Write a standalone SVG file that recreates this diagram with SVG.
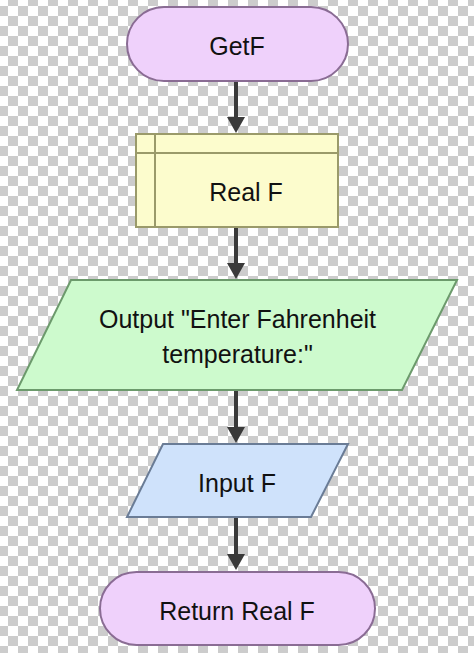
<svg xmlns="http://www.w3.org/2000/svg" width="474" height="653" viewBox="0 0 474 653">
  <defs>
    <pattern id="checker" x="-2" y="-4" width="20" height="20" patternUnits="userSpaceOnUse">
      <rect x="0" y="0" width="20" height="20" fill="#ffffff"/>
      <rect x="10" y="0" width="10" height="10" fill="#cccccc"/>
      <rect x="0" y="10" width="10" height="10" fill="#cccccc"/>
    </pattern>
    <marker id="arrow" viewBox="0 0 16 18" refX="0" refY="9" markerWidth="16" markerHeight="18" markerUnits="userSpaceOnUse" orient="auto">
      <path d="M0,0 L16,9 L0,18 Z" fill="#3a3a3a"/>
    </marker>
  </defs>
  <style>
    .lbl { font-family: "Liberation Sans", Arial, sans-serif; font-size: 25px; fill: #111111; text-anchor: middle; }
    .term { fill: #efd1fb; stroke: #8a6c94; stroke-width: 2; }
    .decl { fill: #fcfccd; stroke: #9a9a6a; stroke-width: 2; }
    .out { fill: #cdfacd; stroke: #6c9a6c; stroke-width: 2; }
    .inp { fill: #cfe2fb; stroke: #6a7c96; stroke-width: 2; }
    .conn { stroke: #3a3a3a; stroke-width: 4; fill: none; marker-end: url(#arrow); }
  </style>
  <rect x="0" y="0" width="474" height="653" fill="url(#checker)"/>

  <g id="connectors">
    <line class="conn" x1="236" y1="81" x2="236" y2="117"/>
    <line class="conn" x1="236" y1="227" x2="236" y2="263"/>
    <line class="conn" x1="236" y1="390" x2="236" y2="427"/>
    <line class="conn" x1="236" y1="517" x2="236" y2="554"/>
  </g>

  <g id="node-getf">
    <rect class="term" x="127" y="7" width="221" height="74" rx="37" ry="37"/>
    <text class="lbl" x="237" y="55">GetF</text>
  </g>

  <g id="node-realf">
    <rect class="decl" x="136" y="134" width="202" height="93"/>
    <line x1="155" y1="134" x2="155" y2="227" stroke="#9a9a6a" stroke-width="2"/>
    <line x1="136" y1="153" x2="338" y2="153" stroke="#9a9a6a" stroke-width="2"/>
    <text class="lbl" x="246" y="201">Real F</text>
  </g>

  <g id="node-output">
    <polygon class="out" points="71,280 457,280 402,390 17,390"/>
    <text class="lbl" x="237.5" y="328">Output "Enter Fahrenheit</text>
    <text class="lbl" x="237.5" y="363">temperature:"</text>
  </g>

  <g id="node-input">
    <polygon class="inp" points="163,444 348,444 311,517 127,517"/>
    <text class="lbl" x="237" y="492">Input F</text>
  </g>

  <g id="node-return">
    <rect class="term" x="100" y="572" width="275" height="73" rx="36.5" ry="36.5"/>
    <text class="lbl" x="237" y="620">Return Real F</text>
  </g>
</svg>
